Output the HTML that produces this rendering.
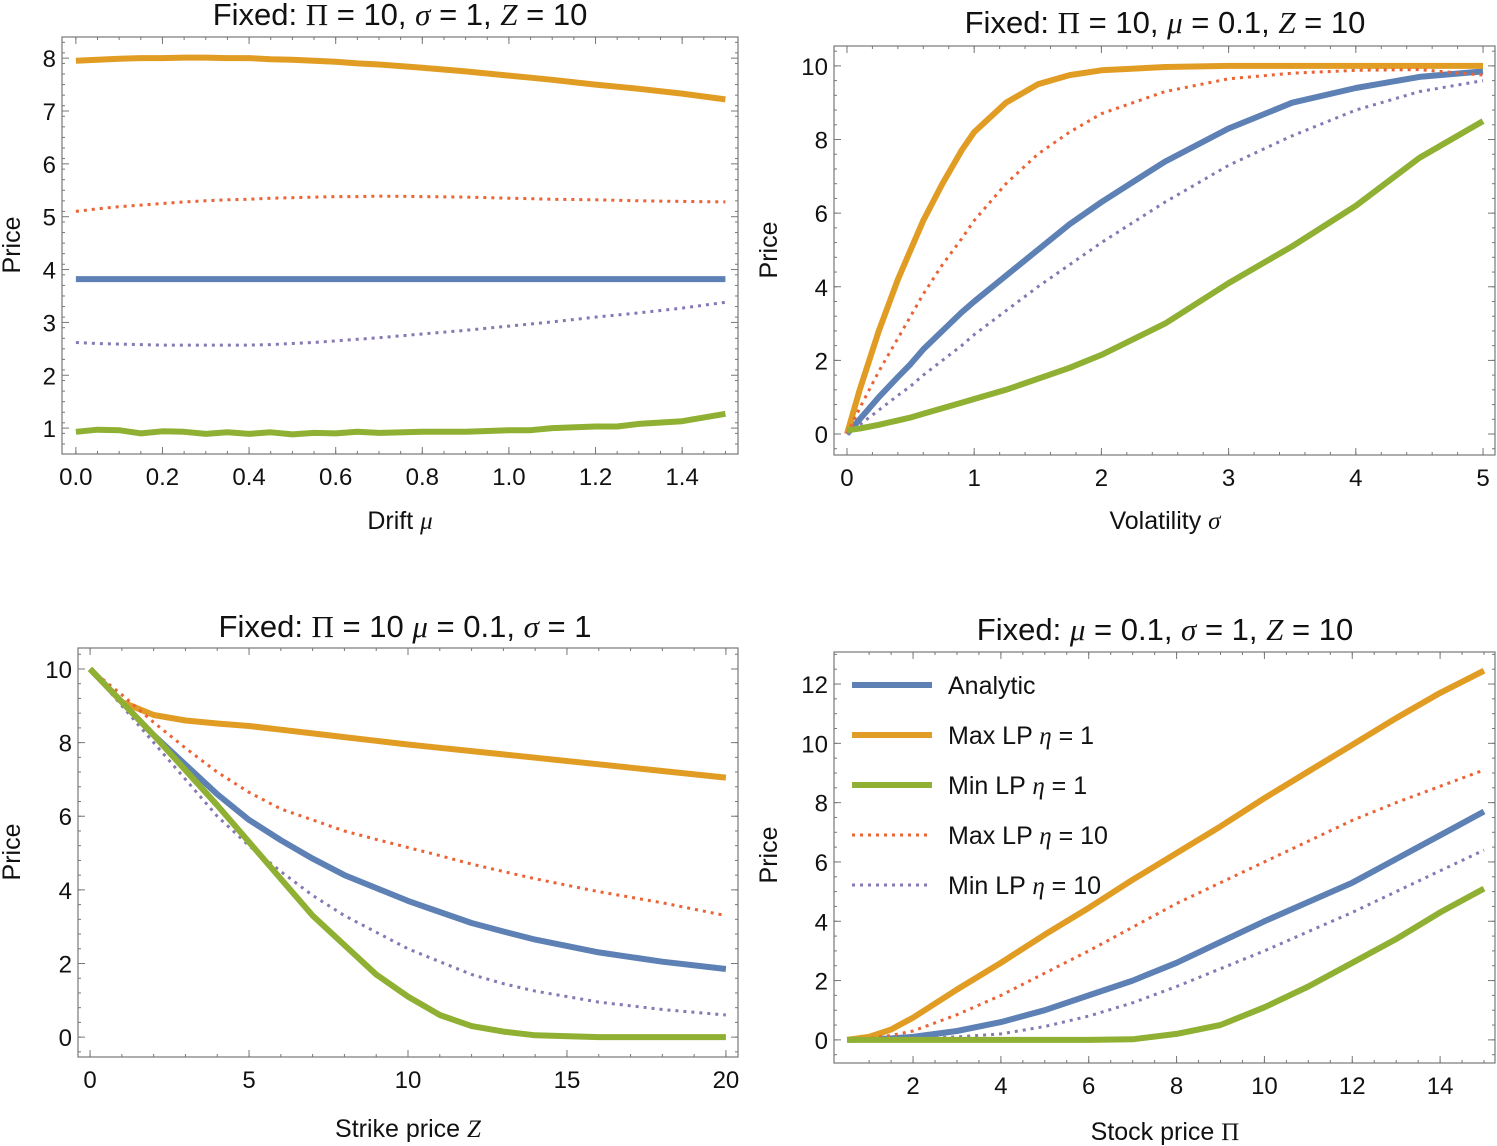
<!DOCTYPE html>
<html><head><meta charset="utf-8"><style>
html,body{margin:0;padding:0;background:#fff;}
svg{display:block;font-family:"Liberation Sans",sans-serif;}
</style></head><body>
<svg id="s" width="1497" height="1146" viewBox="0 0 1497 1146"></svg>
<script>
// ---- data ----
const tlX=[0,0.05,0.1,0.15,0.2,0.25,0.3,0.35,0.4,0.45,0.5,0.55,0.6,0.65,0.7,0.8,0.9,1.0,1.05,1.1,1.2,1.25,1.3,1.4,1.5];
const tlOrange=[7.95,7.97,7.99,8.0,8.0,8.01,8.01,8.0,8.0,7.98,7.97,7.95,7.93,7.9,7.88,7.82,7.75,7.67,7.63,7.59,7.5,7.46,7.42,7.33,7.22];
const tlRed=[5.1,5.15,5.19,5.22,5.25,5.28,5.3,5.32,5.33,5.35,5.36,5.37,5.38,5.38,5.39,5.38,5.37,5.35,5.34,5.33,5.32,5.31,5.3,5.29,5.28];
const tlBlue=[3.82,3.82,3.82,3.82,3.82,3.82,3.82,3.82,3.82,3.82,3.82,3.82,3.82,3.82,3.82,3.82,3.82,3.82,3.82,3.82,3.82,3.82,3.82,3.82,3.82];
const tlPurple=[2.62,2.6,2.59,2.58,2.57,2.57,2.57,2.57,2.57,2.58,2.6,2.62,2.65,2.68,2.71,2.78,2.85,2.93,2.97,3.01,3.1,3.14,3.18,3.27,3.38];
const tlGreen=[0.93,0.97,0.96,0.9,0.94,0.93,0.89,0.92,0.89,0.92,0.88,0.91,0.9,0.93,0.91,0.93,0.93,0.96,0.96,1.0,1.03,1.03,1.08,1.13,1.27];
const trX=[0,0.1,0.25,0.4,0.5,0.6,0.75,0.9,1,1.25,1.5,1.75,2,2.5,3,3.5,4,4.5,5];
const trOrange=[0,1.2,2.8,4.2,5.0,5.8,6.8,7.7,8.2,9.0,9.5,9.75,9.88,9.97,10,10,10,10,10];
const trRed=[0,0.7,1.7,2.6,3.2,3.8,4.6,5.3,5.8,6.8,7.6,8.2,8.7,9.3,9.65,9.8,9.88,9.9,9.75];
const trBlue=[0,0.4,1.0,1.55,1.9,2.3,2.8,3.3,3.6,4.3,5.0,5.7,6.3,7.4,8.3,9.0,9.4,9.7,9.85];
const trPurple=[0,0.25,0.65,1.05,1.3,1.6,2.0,2.4,2.7,3.35,4.0,4.6,5.2,6.3,7.3,8.1,8.8,9.3,9.6];
const trGreen=[0.1,0.15,0.25,0.37,0.45,0.55,0.7,0.85,0.95,1.2,1.5,1.8,2.15,3.0,4.1,5.1,6.2,7.5,8.5];
const blX=[0,1,2,3,4,5,6,7,8,9,10,11,12,13,14,16,18,20];
const blOrange=[10,9.1,8.75,8.6,8.52,8.45,8.35,8.25,8.15,8.05,7.95,7.86,7.77,7.68,7.59,7.41,7.23,7.05];
const blRed=[10,9.3,8.55,7.85,7.2,6.65,6.2,5.9,5.6,5.37,5.15,4.93,4.7,4.5,4.3,3.95,3.65,3.3];
const blBlue=[10,9.1,8.2,7.4,6.6,5.9,5.35,4.85,4.4,4.05,3.7,3.4,3.1,2.87,2.65,2.3,2.05,1.85];
const blPurple=[10,9.0,8.0,7.0,6.0,5.2,4.5,3.85,3.3,2.85,2.4,2.05,1.7,1.45,1.25,0.95,0.75,0.6];
const blGreen=[10,9.1,8.2,7.25,6.3,5.3,4.3,3.3,2.5,1.7,1.1,0.6,0.3,0.15,0.05,0,0,0];
const brX=[0.5,1,1.5,2,3,4,5,6,7,8,9,10,11,12,13,14,15];
const brOrange=[0,0.1,0.35,0.75,1.7,2.6,3.55,4.45,5.4,6.3,7.2,8.15,9.05,9.95,10.85,11.7,12.45];
const brRed=[0,0.05,0.15,0.3,0.85,1.5,2.25,3.0,3.8,4.6,5.3,6.0,6.7,7.4,8.0,8.55,9.1];
const brBlue=[0,0.02,0.05,0.1,0.3,0.6,1.0,1.5,2.0,2.6,3.3,4.0,4.65,5.3,6.1,6.9,7.7];
const brPurple=[0,0,0.02,0.05,0.1,0.2,0.45,0.8,1.25,1.8,2.4,3.0,3.65,4.3,5.0,5.7,6.4];
const brGreen=[0,0,0,0,0,0,0,0,0.02,0.2,0.5,1.1,1.8,2.6,3.4,4.3,5.1];
const tlXTicks=["0.0","0.2","0.4","0.6","0.8","1.0","1.2","1.4"];
const tlYTicks=["1","2","3","4","5","6","7","8"];
const trXTicks=["0","1","2","3","4","5"];
const trYTicks=["0","2","4","6","8","10"];
const blXTicks=["0","5","10","15","20"];
const blYTicks=["0","2","4","6","8","10"];
const brXTicks=["2","4","6","8","10","12","14"];
const brYTicks=["0","2","4","6","8","10","12"];
const legendLabels=["Analytic","Max LP η = 1","Min LP η = 1","Max LP η = 10","Min LP η = 10"];

const NS="http://www.w3.org/2000/svg";
const svg=document.getElementById('s');
function mk(t,a,p){const e=document.createElementNS(NS,t);for(const k in a)e.setAttribute(k,a[k]);(p||svg).appendChild(e);return e;}
const C={blue:"#5e81b5",orange:"#e19c24",green:"#8fb032",red:"#eb6235",purple:"#8778b3"};

function panel(id,box,xr,yr,xt,xminor,yt,yminor,series){
  const g=mk('g',{});
  
  
  const [L,T,R,B]=box;
  const sx=v=>L+(v-xr[0])/(xr[1]-xr[0])*(R-L);
  const sy=v=>B-(v-yr[0])/(yr[1]-yr[0])*(B-T);
  const fr=mk('rect',{x:L,y:T,width:R-L,height:B-T,fill:'none',stroke:'#777','stroke-width':1.2},g);
  
  const tg=mk('g',{stroke:'#777','stroke-width':1},g);
  xminor.forEach(v=>{if(v<xr[0]||v>xr[1])return;const x=sx(v);mk('line',{x1:x,x2:x,y1:B,y2:B-3},tg);mk('line',{x1:x,x2:x,y1:T,y2:T+3},tg);});
  yminor.forEach(v=>{if(v<yr[0]||v>yr[1])return;const y=sy(v);mk('line',{x1:L,x2:L+3,y1:y,y2:y},tg);mk('line',{x1:R,x2:R-3,y1:y,y2:y},tg);});
  xt.forEach(s=>{const x=sx(parseFloat(s));mk('line',{x1:x,x2:x,y1:B,y2:B-7},tg);mk('line',{x1:x,x2:x,y1:T,y2:T+7},tg);
    const t=mk('text',{x:x,y:B+31,'text-anchor':'middle','font-size':24,fill:'#111'},g);t.textContent=s;
    });
  yt.forEach(s=>{const y=sy(parseFloat(s));mk('line',{x1:L,x2:L+7,y1:y,y2:y},tg);mk('line',{x1:R,x2:R-7,y1:y,y2:y},tg);
    const t=mk('text',{x:L-6,y:y+9,'text-anchor':'end','font-size':24,fill:'#111'},g);t.textContent=s;
    });
  series.forEach(([name,xs,ys,col,dot])=>{
    const d=xs.map((v,i)=>(i?'L':'M')+sx(v).toFixed(1)+','+sy(ys[i]).toFixed(1)).join('');
    const a={d:d,fill:'none',stroke:C[col],'stroke-width':dot?3:6,'stroke-linejoin':'round'};
    if(dot)a['stroke-dasharray']='3,5';
    const p=mk('path',a,g);
    
  });
}
function rng(a,b,s){const r=[];for(let v=a;v<=b+1e-9;v+=s)r.push(+v.toFixed(4));return r;}
function S(xs,o,r,b,p,g){return [["series-analytic",xs,b,"blue",0],["series-max-lp-eta1",xs,o,"orange",0],["series-max-lp-eta10",xs,r,"red",1],["series-min-lp-eta10",xs,p,"purple",1],["series-min-lp-eta1",xs,g,"green",0]];}
panel('panel-drift',[62,37,738,454],[-0.032,1.529],[0.51,8.4],tlXTicks,rng(0,1.5,0.05),tlYTicks,rng(0.5,8.4,0.2),S(tlX,tlOrange,tlRed,tlBlue,tlPurple,tlGreen));
panel('panel-volatility',[834,46,1495,455],[-0.102,5.094],[-0.57,10.54],trXTicks,rng(0,5,0.2),trYTicks,rng(-0.4,10.4,0.4),S(trX,trOrange,trRed,trBlue,trPurple,trGreen));
panel('panel-strike',[78,648,738,1057],[-0.38,20.38],[-0.54,10.57],blXTicks,rng(0,20,1),blYTicks,rng(-0.4,10.4,0.4),S(blX,blOrange,blRed,blBlue,blPurple,blGreen));
panel('panel-stock',[834,652,1495,1063],[0.2,15.25],[-0.78,13.08],brXTicks,rng(1,15,0.5),brYTicks,rng(-0.5,13,0.5),S(brX,brOrange,brRed,brBlue,brPurple,brGreen));

function txt(name,x,y,size,html,rot){
  const t=mk('text',{x:x,y:y,'text-anchor':'middle','font-size':size,fill:'#111'});
  if(rot)t.setAttribute('transform','rotate(-90 '+x+' '+y+')');
  t.innerHTML=html;
}
const I=s=>'<tspan font-family="Liberation Serif" font-style="italic">'+s+'</tspan>';
const P='<tspan font-family="Liberation Serif">Π</tspan>';
txt('title-drift',400,25,31,'Fixed: '+P+' = 10, '+I('σ')+' = 1, '+I('Z')+' = 10');
txt('title-volatility',1165,33,31,'Fixed: '+P+' = 10, '+I('μ')+' = 0.1, '+I('Z')+' = 10');
txt('title-strike',405,637,31,'Fixed: '+P+' = 10 '+I('μ')+' = 0.1, '+I('σ')+' = 1');
txt('title-stock',1165,640,31,'Fixed: '+I('μ')+' = 0.1, '+I('σ')+' = 1, '+I('Z')+' = 10');
txt('x-axis-title-drift',400,529,25,'Drift '+I('μ'));
txt('x-axis-title-volatility',1165,529,25,'Volatility '+I('σ'));
txt('x-axis-title-strike',408,1137,25,'Strike price '+I('Z'));
txt('x-axis-title-stock',1165,1140,25,'Stock price '+P);
txt('y-axis-title-drift',20,245,25,'Price',1);
txt('y-axis-title-volatility',777,250,25,'Price',1);
txt('y-axis-title-strike',20,852,25,'Price',1);
txt('y-axis-title-stock',777,855,25,'Price',1);

const lg=mk('g',{});

const lc=[["blue",0],["orange",0],["green",0],["red",1],["purple",1]];
legendLabels.forEach((s,i)=>{
  const y=685+i*50;
  const e=mk('g',{},lg);
  
  const a={x1:852,x2:932,y1:y,y2:y,stroke:C[lc[i][0]],'stroke-width':lc[i][1]?3:6};
  if(lc[i][1])a['stroke-dasharray']='3,5';
  mk('line',a,e);
  const t=mk('text',{x:948,y:y+9,'font-size':25,fill:'#111'},e);
  t.innerHTML=s.replace('η',I('η'));
});
</script>
</body></html>
